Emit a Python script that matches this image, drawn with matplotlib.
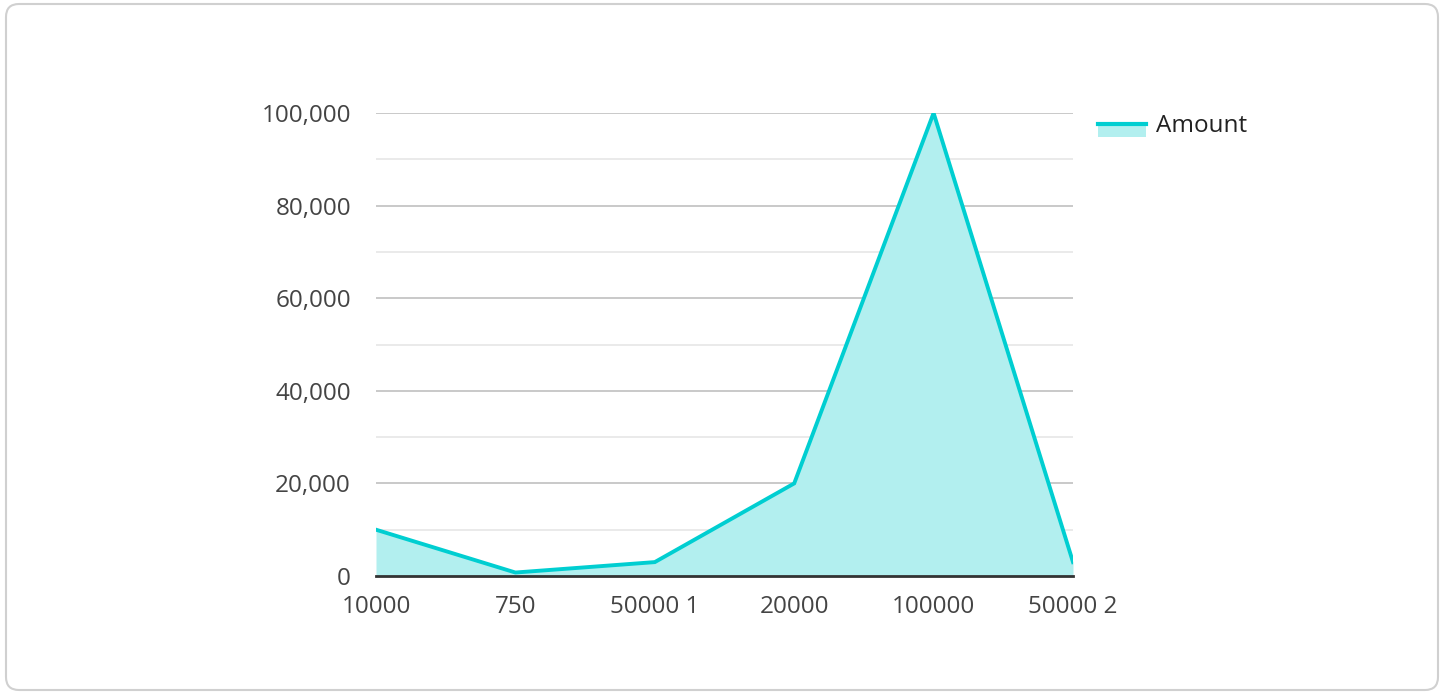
import numpy as np
import matplotlib.pyplot as plt
from matplotlib.patches import FancyBboxPatch, Rectangle
from matplotlib.lines import Line2D
from matplotlib.ticker import FuncFormatter, MultipleLocator

plt.rcParams['font.family'] = ['Open Sans', 'DejaVu Sans']

# Amount per category
categories = ['10000', '750', '50000 1', '20000', '100000', '50000 2']
amounts = [10000, 750, 3000, 20000, 100000, 3000]

LINE = '#00CED1'
FILL = '#B2EFEF'
FS = 17.5

fig = plt.figure(figsize=(14.45, 6.93), dpi=100)

# rounded card frame
card = FancyBboxPatch((6 / 1445, 3 / 693), 1432 / 1445, 686 / 693,
                      boxstyle='round,pad=0,rounding_size=0.009',
                      transform=fig.transFigure, facecolor='white',
                      edgecolor='#d0d0d0', linewidth=1.5,
                      mutation_aspect=1445 / 693, zorder=-1)
fig.patches.append(card)

ax = fig.add_axes([376 / 1445, (693 - 576) / 693, (1073 - 376) / 1445, (576 - 113) / 693])
ax.set_facecolor('none')

x = np.arange(len(categories))
ax.fill_between(x, 0, amounts, color=FILL, linewidth=0, zorder=2)
ax.plot(x, amounts, color=LINE, linewidth=2.8, zorder=3, solid_joinstyle='miter')

ax.set_xlim(0, len(categories) - 1)
ax.set_ylim(0, 100000)

# grid: major every 20k, minor every 10k
ax.yaxis.set_major_locator(MultipleLocator(20000))
for v in np.arange(10000, 100001, 10000):
    major = v % 20000 == 0
    ax.axhline(v, color='#c0c0c0' if major else '#e6e6e6', linewidth=1.2, zorder=1)
ax.axhline(0, color='#333333', linewidth=2, zorder=4, clip_on=False)

ax.yaxis.set_major_formatter(FuncFormatter(lambda v, p: f'{int(v):,}'))
ax.set_xticks(x)
ax.set_xticklabels(categories)
ax.tick_params(axis='both', length=0, labelsize=FS, colors='#444444')
ax.tick_params(axis='x', pad=13.5)
ax.tick_params(axis='y', pad=18)
for s in ax.spines.values():
    s.set_visible(False)

# legend
fig.patches.append(Rectangle((1098 / 1445, (693 - 137) / 693), 48 / 1445, 13 / 693,
                             transform=fig.transFigure, facecolor=FILL, edgecolor='none'))
fig.lines.append(Line2D([1098 / 1445, 1146 / 1445], [(693 - 124) / 693] * 2,
                        transform=fig.transFigure, color=LINE, linewidth=3))
fig.text(1156 / 1445, (693 - 126) / 693, 'Amount', fontsize=FS, color='#222222', va='center')

fig.savefig('out.png', dpi=100)
